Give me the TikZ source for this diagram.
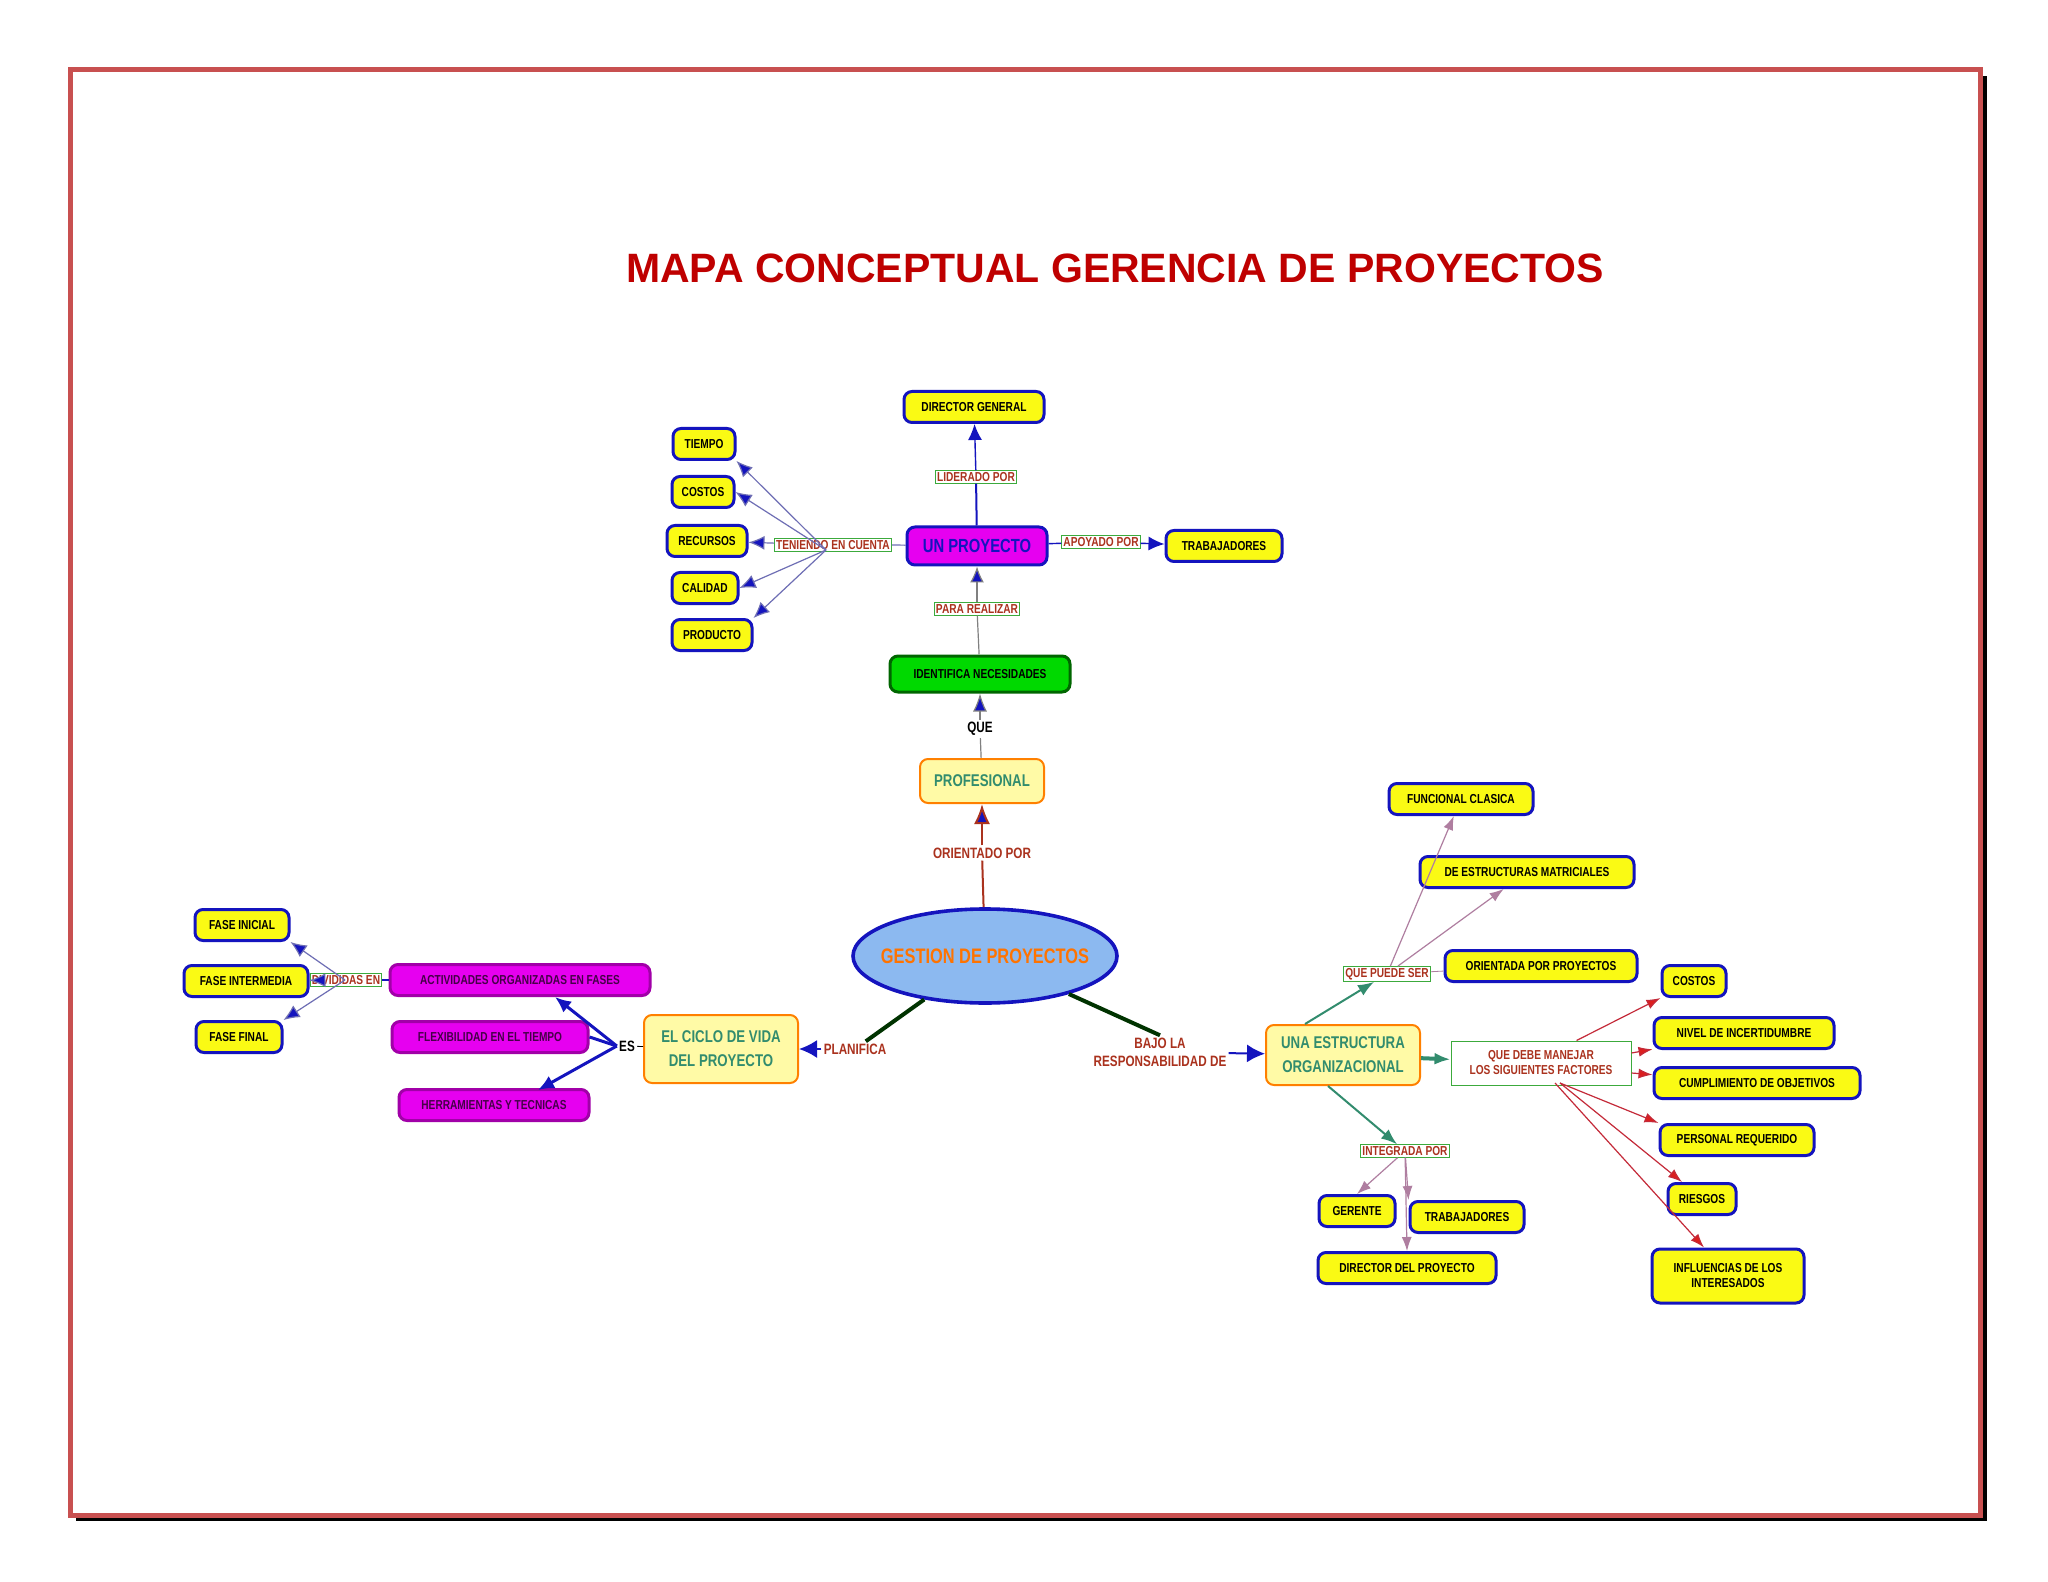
\documentclass[tikz,border=0pt]{standalone}
\usepackage{fontspec}
\setmainfont{Liberation Sans}
\newfontfamily\cf[FakeStretch=0.78]{Liberation Sans}
\newfontfamily\tf{Liberation Sans}
\usetikzlibrary{arrows.meta,shapes.geometric}
\definecolor{bl}{RGB}{20,20,190}
\definecolor{yl}{RGB}{250,250,20}
\definecolor{mg}{RGB}{230,0,240}
\definecolor{lb}{RGB}{110,110,180}
\definecolor{lr}{RGB}{170,50,30}
\definecolor{lg}{RGB}{60,170,60}
\definecolor{tl}{RGB}{50,140,110}
\definecolor{pu}{RGB}{140,70,120}
\definecolor{rd}{RGB}{220,30,30}
\definecolor{fr}{RGB}{200,80,80}
\definecolor{eb}{RGB}{140,185,240}
\tikzset{
 ybox/.style={draw=bl,line width=1.5pt,fill=yl,rounded corners=4pt,font=\cf\bfseries\fontsize{6.5}{7.5}\selectfont,inner sep=1pt,minimum height=15.5pt,align=center},
 mbox/.style={ybox,fill=mg,draw=mg!70!black,text=black!70!mg},
 lbl/.style={draw=lg,line width=0.5pt,fill=white,font=\cf\bfseries\fontsize{6.5}{7.5}\selectfont,text=lr,inner sep=0.8pt,align=center},
 plain/.style={font=\cf\bfseries\fontsize{7.5}{9}\selectfont,text=lr,inner sep=1pt,align=center},
 ob/.style={draw=orange,line width=1pt,fill=yellow!35,rounded corners=4pt,text=tl,font=\cf\bfseries\fontsize{8.5}{12}\selectfont,align=center},
 ba/.style={draw=bl,-{Latex[length=8pt,width=7pt]},line width=0.7pt},
 ta/.style={draw=lb,line width=0.6pt,-{Latex[length=8pt,width=7pt,fill=bl]}},
 pa/.style={draw=pu!70,line width=0.6pt,-{Latex[length=7pt,width=5pt]}},
 ra/.style={draw=rd!70!pu,line width=0.6pt,-{Latex[length=7pt,width=5pt,fill=rd]}},
 tea/.style={draw=tl,line width=1pt,-{Latex[length=8pt,width=6pt]}},
}
\begin{document}
\begin{tikzpicture}[x=0.5pt,y=-0.5pt]
\useasboundingbox (0,0) rectangle (2048,1582);
\fill[black] (76,76) rectangle (1987,1521);
\draw[fr,line width=2.5pt,fill=white] (70,70) rectangle (1980,1515);
\node[text=red!75!black,font=\tf\bfseries\fontsize{20.5}{22}\selectfont] (title) at (1115,268) {MAPA CONCEPTUAL GERENCIA DE PROYECTOS};

% top cluster
\node[ybox,minimum width=70pt] (dg) at (974,407) {DIRECTOR GENERAL};
\node[ybox,minimum width=31pt] (tie) at (704,444) {TIEMPO};
\node[ybox,minimum width=31pt] (cos) at (703,492) {COSTOS};
\node[ybox,minimum width=40pt] (rec) at (707,541) {RECURSOS};
\node[ybox,minimum width=33pt] (cal) at (705,588) {CALIDAD};
\node[ybox,minimum width=40pt] (pro) at (712,635) {PRODUCTO};
\node[ybox,fill=mg,minimum width=70pt,minimum height=19pt,text=bl,font=\cf\bfseries\fontsize{9.5}{11}\selectfont] (up) at (977,546) {UN PROYECTO};
\node[ybox,minimum width=58pt] (tra) at (1224,546) {TRABAJADORES};
\node[lbl] (ten) at (833,545) {TENIENDO EN CUENTA};
\node[lbl] (lid) at (976,477) {LIDERADO POR};
\node[lbl] (apo) at (1101,542) {APOYADO POR};
\node[lbl] (par) at (977,609) {PARA REALIZAR};
\node[ybox,fill=green!85!black,draw=green!40!black,minimum width=90pt,minimum height=18pt] (ide) at (980,674) {IDENTIFICA NECESIDADES};
\node[plain,text=black] (que) at (980,729) {QUE};
\node[ob,minimum width=62pt,minimum height=22pt] (prof) at (982,781) {PROFESIONAL};
\node[plain] (ori) at (982,853) {ORIENTADO POR};
\node[ellipse,draw=bl,line width=1.8pt,fill=eb,minimum width=132pt,minimum height=47pt,text=orange!90!red,font=\cf\bfseries\fontsize{10.5}{13}\selectfont,inner xsep=-12pt,inner ysep=0pt] (ges) at (985,956) {GESTION DE PROYECTOS};

\draw[ba,-,line width=1pt] (up) -- (lid);
\draw[ba] (lid) -- (dg);
\draw[ba,-] (up) -- (apo);
\draw[ba] (apo) -- (tra);
\draw[lb,line width=0.6pt] (ten.east) -- (up);
\coordinate (tc) at (826,550);
\draw[ta] (tc) -- (tie.south east);
\draw[ta] (tc) -- (cos.east);
\draw[ta] (ten) -- (rec);
\draw[ta] (tc) -- (cal.east);
\draw[ta] (tc) -- (pro.north east);
\draw[gray,line width=0.6pt] (ide) -- (par);
\draw[gray,line width=0.6pt,-{Latex[length=8pt,width=7pt,fill=bl]}] (par) -- (up);
\draw[gray,line width=0.6pt] (prof) -- (que);
\draw[gray,line width=0.6pt,-{Latex[length=9pt,width=7pt,fill=bl]}] (que) -- (ide);
\draw[lr,line width=1pt] (ges) -- (ori);
\draw[lr,line width=1pt,-{Latex[length=10pt,width=8pt,fill=bl]}] (ori) -- (prof);

% left cluster
\node[ob,minimum width=77pt,minimum height=34pt] (cic) at (721,1049) {EL CICLO DE VIDA\\DEL PROYECTO};
\node[plain] (pla) at (855,1049) {PLANIFICA};
\draw[green!20!black,line width=2pt] (ges) -- (pla);
\draw[-{Latex[length=9pt,width=9pt]},bl,line width=1pt] (pla) -- (cic);
\node[plain,text=black] (es) at (627,1046) {ES};
\draw[black] (cic) -- (es);
\node[mbox,minimum width=130pt] (act) at (520,980) {ACTIVIDADES ORGANIZADAS EN FASES};
\node[mbox,minimum width=98pt] (fle) at (490,1037) {FLEXIBILIDAD EN EL TIEMPO};
\node[mbox,minimum width=95pt] (her) at (494,1105) {HERRAMIENTAS Y TECNICAS};
\coordinate (ea) at (555,997);
\coordinate (eh) at (538,1090);
\draw[ba,line width=1.5pt] (es.west) -- (ea);
\draw[bl,line width=1.5pt] (es.west) -- (fle.east);
\draw[ba,line width=1.5pt] (es.west) -- (eh);
\node[lbl] (div) at (346,980) {DIVIDIDAS EN};
\node[ybox,minimum width=47pt] (fi) at (242,925) {FASE INICIAL};
\node[ybox,minimum width=62pt] (fm) at (246,981) {FASE INTERMEDIA};
\node[ybox,minimum width=43pt] (ff) at (239,1037) {FASE FINAL};
\draw[bl,line width=0.6pt] (act) -- (div);
\coordinate (dc) at (345,980);
\draw[ta] (dc) -- (fi.south east);
\draw[ta] (div) -- (fm);
\draw[ta] (dc) -- (ff.north east);

% right cluster
\node[plain] (baj) at (1160,1052) {BAJO LA\\RESPONSABILIDAD DE};
\draw[green!20!black,line width=2pt] (ges) -- (baj.north);
\node[ob,minimum width=77pt,minimum height=30pt] (est) at (1343,1055) {UNA ESTRUCTURA\\ORGANIZACIONAL};
\draw[-{Latex[length=9pt,width=9pt]},bl,line width=1pt] (baj) -- (est);
\node[lbl] (qps) at (1387,974) {QUE PUEDE SER};
\node[ybox,minimum width=72pt] (fun) at (1461,799) {FUNCIONAL CLASICA};
\node[ybox,minimum width=107pt] (mat) at (1527,872) {DE ESTRUCTURAS MATRICIALES};
\node[ybox,minimum width=96pt] (opp) at (1541,966) {ORIENTADA POR PROYECTOS};
\draw[tea] (est.north west) ++(40,0) -- (qps);
\draw[pa] (qps) -- (fun);
\draw[pa] (qps) -- (mat);
\draw[pu!70] (qps) -- (opp);
\node[lbl,minimum width=90pt,minimum height=22pt] (qdm) at (1541,1063) {QUE DEBE MANEJAR\\LOS SIGUIENTES FACTORES};
\draw[tea,line width=2pt] (est) -- (qdm);
\node[ybox,minimum width=32pt] (c2) at (1694,981) {COSTOS};
\node[ybox,minimum width=90pt] (niv) at (1744,1033) {NIVEL DE INCERTIDUMBRE};
\node[ybox,minimum width=103pt] (cum) at (1757,1083) {CUMPLIMIENTO DE OBJETIVOS};
\node[ybox,minimum width=77pt] (per) at (1737,1140) {PERSONAL REQUERIDO};
\node[ybox,minimum width=34pt] (rie) at (1702,1199) {RIESGOS};
\node[ybox,minimum width=76pt,minimum height=27pt] (inf) at (1728,1276) {INFLUENCIAS DE LOS\\INTERESADOS};
\coordinate (qc) at (1560,1083);
\coordinate (qc2) at (1555,1083);
\draw[ra] (qdm.north east) ++(-55,0) -- (c2.south west);
\draw[ra] (qdm.east) ++(0,-10) -- (niv);
\draw[ra] (qdm.east) ++(0,10) -- (cum);
\draw[ra] (qc) -- (per.north west);
\draw[ra] (qc) -- ([xshift=-10pt]rie.north);
\draw[ra] (qc2) -- ([xshift=-12pt]inf.north);
\node[lbl] (int) at (1405,1151) {INTEGRADA POR};
\node[ybox,minimum width=38pt] (ger) at (1357,1211) {GERENTE};
\node[ybox,minimum width=57pt] (tr2) at (1467,1217) {TRABAJADORES};
\node[ybox,minimum width=89pt] (dp) at (1407,1268) {DIRECTOR DEL PROYECTO};
\draw[tea] (est.south) ++(-15,0) -- (int);
\draw[pa] (int) -- (ger.north);
\draw[pa] (int) -- (tr2.north west);
\draw[pa] (int) -- (dp.north);
\end{tikzpicture}
\end{document}
